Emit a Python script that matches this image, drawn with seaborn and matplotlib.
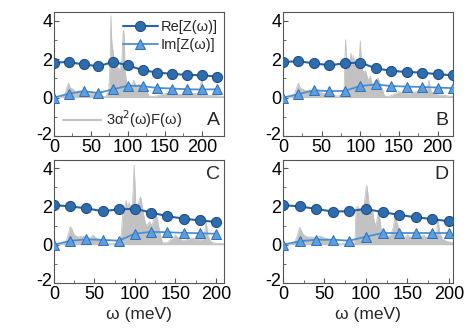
import numpy as np
import pandas as pd
import matplotlib
matplotlib.use("Agg")
import matplotlib.pyplot as plt
import matplotlib.transforms as mtransforms
import seaborn as sns
from matplotlib.lines import Line2D

sns.set_theme(style="ticks")
plt.rcParams['font.family'] = ['Liberation Sans', 'DejaVu Sans']
plt.rcParams['axes.unicode_minus'] = False

panels = ["A", "B", "C", "D"]

omega_A = [0, 20, 40, 60, 80, 100, 120, 140, 160, 180, 200, 220]
omega_B = [0, 20, 40, 60, 80, 100, 120, 140, 160, 180, 200, 220]
omega_C = [0, 20, 40, 60, 80, 100, 120, 140, 160, 180, 200]
omega_D = [0, 20, 40, 60, 80, 100, 120, 140, 160, 180, 200]

re_A = [1.82, 1.85, 1.72, 1.63, 1.85, 1.68, 1.42, 1.30, 1.23, 1.18, 1.16, 1.09]
im_A = [0.00, 0.20, 0.33, 0.24, 0.43, 0.62, 0.59, 0.50, 0.47, 0.43, 0.42, 0.43]
re_B = [1.85, 1.89, 1.78, 1.68, 1.78, 1.82, 1.52, 1.39, 1.33, 1.30, 1.21, 1.16]
im_B = [0.00, 0.17, 0.38, 0.33, 0.35, 0.60, 0.68, 0.60, 0.57, 0.55, 0.52, 0.49]
re_C = [2.07, 2.00, 1.90, 1.75, 1.84, 1.88, 1.68, 1.49, 1.36, 1.27, 1.19]
im_C = [0.00, 0.20, 0.28, 0.25, 0.21, 0.58, 0.67, 0.65, 0.62, 0.60, 0.57]
re_D = [2.07, 2.00, 1.87, 1.73, 1.75, 1.87, 1.70, 1.56, 1.43, 1.34, 1.22]
im_D = [0.00, 0.18, 0.26, 0.26, 0.21, 0.42, 0.61, 0.61, 0.61, 0.61, 0.61]

# 3 alpha^2(w) F(w) spectra, read point by point
spec_w_A = [0, 5, 10, 15, 18, 20, 22, 25, 28, 30, 35, 40, 45, 50, 55, 60, 65, 70, 74, 76, 77, 78,
            79, 80, 82, 84, 86, 88, 90, 92, 93, 94, 95, 96, 98, 100, 102, 104, 106, 108, 110, 112,
            115, 118, 120, 122, 124, 126, 128, 130, 135, 140, 150, 160, 170, 180, 190, 196, 200,
            202, 205, 210, 220, 230]
spec_v_A = [0.0, 0.02, 0.05, 0.2, 0.6, 0.75, 0.5, 0.45, 0.35, 0.3, 0.35, 0.3, 0.25, 0.2, 0.25,
            0.15, 0.05, 0.05, 0.3, 2.0, 4.25, 3.0, 2.6, 2.4, 1.8, 1.5, 1.6, 1.4, 1.6, 2.0, 3.0,
            3.5, 3.2, 1.5, 0.8, 0.5, 0.6, 0.5, 0.6, 0.9, 0.7, 0.55, 0.7, 0.6, 0.8, 0.7, 0.5, 0.3,
            0.1, 0.05, 0.05, 0.1, 0.2, 0.25, 0.15, 0.25, 0.2, 0.2, 1.0, 0.3, 0.15, 0.1, 0.1, 0.05]

spec_w_B = [0, 5, 10, 15, 18, 20, 22, 25, 30, 35, 40, 45, 50, 55, 60, 65, 70, 75, 79, 80, 81, 82,
            84, 86, 88, 90, 91, 93, 95, 97, 99, 100, 101, 103, 105, 107, 110, 113, 116, 120, 123,
            126, 129, 131, 135, 140, 150, 160, 170, 180, 186, 189, 190, 192, 195, 200, 210, 220]
spec_v_B = [0.0, 0.02, 0.05, 0.2, 0.55, 0.75, 0.5, 0.45, 0.35, 0.4, 0.3, 0.35, 0.25, 0.2, 0.15,
            0.1, 0.08, 0.1, 0.3, 1.8, 3.0, 2.2, 1.6, 1.5, 2.3, 1.8, 2.2, 1.7, 2.0, 1.6, 2.2, 2.95,
            2.2, 1.4, 1.3, 1.4, 0.9, 1.1, 0.6, 0.9, 1.0, 0.7, 0.4, 0.1, 0.05, 0.1, 0.3, 0.2, 0.3,
            0.25, 0.4, 0.9, 0.6, 0.3, 0.2, 0.15, 0.1, 0.05]

spec_w_C = [0, 5, 10, 15, 18, 20, 22, 24, 27, 30, 35, 40, 45, 48, 52, 55, 60, 65, 70, 75, 80, 83,
            85, 87, 89, 91, 93, 95, 97, 98, 99, 100, 101, 103, 105, 107, 109, 111, 113, 115, 118,
            121, 124, 126, 128, 130, 132, 134, 140, 145, 150, 155, 160, 170, 180, 185, 188, 190,
            193, 196, 200, 210]
spec_v_C = [0.0, 0.02, 0.05, 0.2, 0.6, 0.95, 0.85, 0.6, 0.45, 0.4, 0.45, 0.4, 0.35, 0.5, 0.35, 0.3,
            0.1, 0.05, 0.05, 0.05, 0.08, 0.5, 1.6, 1.9, 2.3, 1.9, 2.2, 1.8, 2.2, 3.0, 4.15, 3.2,
            2.0, 1.9, 2.3, 2.5, 2.0, 1.5, 1.1, 1.0, 1.2, 1.0, 1.4, 1.6, 1.3, 0.8, 0.4, 0.1, 0.1,
            0.3, 0.5, 0.3, 0.2, 0.35, 0.25, 0.3, 1.2, 0.5, 0.2, 0.1, 0.08, 0.05]

spec_w_D = [0, 5, 10, 15, 18, 20, 22, 24, 27, 30, 35, 40, 45, 50, 55, 60, 65, 70, 75, 80, 85, 87,
            88, 90, 93, 96, 98, 100, 101, 102, 104, 106, 108, 110, 112, 115, 117, 119, 121, 125,
            130, 133, 135, 137, 140, 143, 146, 150, 155, 160, 165, 170, 175, 180, 185, 187, 189,
            192, 196, 200, 205]
spec_v_D = [0.0, 0.02, 0.05, 0.2, 0.6, 0.9, 0.75, 0.55, 0.45, 0.4, 0.4, 0.35, 0.45, 0.35, 0.3, 0.1,
            0.05, 0.05, 0.05, 0.05, 0.08, 0.3, 1.9, 2.0, 1.8, 2.0, 2.1, 2.9, 3.1, 2.8, 2.0, 1.9,
            1.8, 1.2, 1.0, 1.7, 1.3, 0.5, 0.3, 0.4, 0.5, 0.9, 1.4, 1.2, 0.8, 0.4, 0.3, 0.5, 0.35,
            0.6, 0.4, 0.5, 0.3, 0.4, 0.5, 1.3, 0.6, 0.3, 0.2, 0.15, 0.1]

xmax = {"A": 230, "B": 220, "C": 210, "D": 205}

data = {
    "A": (omega_A, re_A, im_A, spec_w_A, spec_v_A),
    "B": (omega_B, re_B, im_B, spec_w_B, spec_v_B),
    "C": (omega_C, re_C, im_C, spec_w_C, spec_v_C),
    "D": (omega_D, re_D, im_D, spec_w_D, spec_v_D),
}

re_face = "#2e6cae"
re_edge = "#1c4a80"
re_line = "#2764a8"
im_face = "#5b9fe0"
im_edge = "#2f6db5"
im_line = "#4a90d8"
grey = "#c2c2c2"
frame = "#555555"
MS = 7.3
FS = 13

fig = plt.figure(figsize=(4.74, 3.33), dpi=100)
W, H = 474, 333
boxes = {
    "A": (54, 12, 224, 136),
    "B": (283, 12, 453, 136),
    "C": (54, 159.5, 224, 283),
    "D": (283, 159.5, 453, 283),
}

for p in panels:
    x0, y0, x1, y1 = boxes[p]
    ax = fig.add_axes([x0 / W, 1 - y1 / H, (x1 - x0) / W, (y1 - y0) / H])
    om, re, im, sw, sv = data[p]
    ax.fill_between(sw, 0, sv, color=grey, linewidth=0, zorder=1)
    sns.lineplot(x=sw, y=sv, ax=ax, color=grey, linewidth=0.6, zorder=1)
    sns.lineplot(x=om, y=im, ax=ax, color=im_line, linewidth=1.3, marker="^", markersize=MS,
                 markerfacecolor=im_face, markeredgecolor=im_edge, markeredgewidth=0.7, zorder=3)
    sns.lineplot(x=om, y=re, ax=ax, color=re_line, linewidth=1.5, marker="o", markersize=MS,
                 markerfacecolor=re_face, markeredgecolor=re_edge, markeredgewidth=0.7, zorder=4)
    ax.set_xlim(0, xmax[p])
    ax.set_ylim(-2, 4.45)
    ax.set_xticks([0, 50, 100, 150, 200])
    ax.set_xticks([25, 75, 125, 175], minor=True)
    ax.set_yticks([-2, 0, 2, 4])
    ax.set_yticks([-1, 1, 3], minor=True)
    ax.tick_params(which="major", direction="in", length=3.5, width=0.8, color=frame,
                   labelsize=FS, labelcolor="black")
    ax.tick_params(axis="x", which="major", pad=2.5)
    ax.tick_params(axis="y", which="major", pad=1.0)
    ax.tick_params(which="minor", direction="in", length=2, width=0.6, color=frame)
    # nudge the bottom y label (-2) slightly upward, as in the reference
    ylabels = ax.get_yticklabels()
    shift = mtransforms.ScaledTranslation(0, 3 / 100, fig.dpi_scale_trans)
    ylabels[0].set_transform(ylabels[0].get_transform() + shift)
    for s in ax.spines.values():
        s.set_color(frame)
        s.set_linewidth(0.8)
    ax.set_xlabel("")
    ax.set_ylabel("")
    if p in ("C", "D"):
        ax.set_xlabel("ω (meV)", fontsize=12.5, labelpad=2.5)
    if p in ("A", "B"):
        ax.text(0.975, 0.06, p, transform=ax.transAxes, ha="right", va="bottom", fontsize=14)
    else:
        ax.text(0.975, 0.95, p, transform=ax.transAxes, ha="right", va="top", fontsize=14)
    if p == "A":
        h_re = Line2D([], [], color=re_line, lw=1.5, marker="o", markersize=MS,
                      markerfacecolor=re_face, markeredgecolor=re_edge, markeredgewidth=0.7)
        h_im = Line2D([], [], color=im_line, lw=1.3, marker="^", markersize=MS,
                      markerfacecolor=im_face, markeredgecolor=im_edge, markeredgewidth=0.7)
        leg1 = ax.legend([h_re, h_im], ["Re[Z(ω)]", "Im[Z(ω)]"], loc="upper right",
                         bbox_to_anchor=(1.0, 0.99),
                         frameon=False, fontsize=10.5, handlelength=2.4, handletextpad=0.2,
                         borderaxespad=0.05, labelspacing=0.3)
        ax.add_artist(leg1)
        h_g = Line2D([], [], color=grey, lw=1.5)
        ax.legend([h_g], ["3α$^2$(ω)F(ω)"], loc="center left", bbox_to_anchor=(0.02, 0.137),
                  frameon=False, fontsize=10.5, handlelength=2.6, handletextpad=0.3,
                  borderaxespad=0.0)

fig.savefig("out.png", dpi=100)
